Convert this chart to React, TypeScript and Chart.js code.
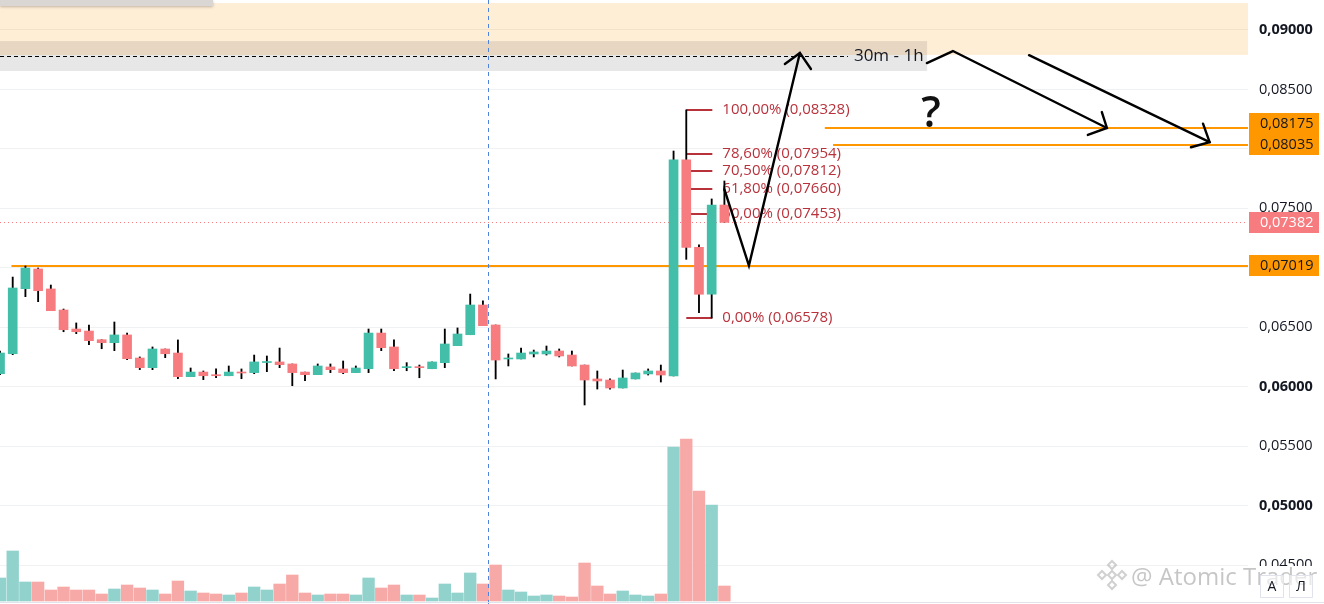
import React, { useEffect, useRef } from "react";
import { Chart, registerables } from "chart.js";

Chart.register(...registerables);

// ---- candle data (index = candle number) ----
const opens = [
  0.06109, 0.06277, 0.06824, 0.0699, 0.06822, 0.06645, 0.06485, 0.06468, 0.06395, 0.0637,
  0.06435, 0.06241, 0.0616, 0.06317, 0.06283, 0.06084, 0.06123, 0.06101, 0.06092, 0.06123,
  0.06118, 0.06203, 0.06208, 0.06191, 0.06123, 0.06101, 0.06166, 0.06149, 0.06118, 0.06151,
  0.06451, 0.06334, 0.0616, 0.06166, 0.06151, 0.06202, 0.06345, 0.06437, 0.06687, 0.06519,
  0.06233, 0.06233, 0.06275, 0.06275, 0.063, 0.06266, 0.06182, 0.06065, 0.06056, 0.05989,
  0.06065, 0.06107, 0.06132, 0.0609, 0.07907, 0.07172, 0.06777, 0.07528,
];
const highs = [
  0.063, 0.06922, 0.07015, 0.06998, 0.06855, 0.06653, 0.06536, 0.06519, 0.06395, 0.06544,
  0.06451, 0.0625, 0.06334, 0.06317, 0.06393, 0.06157, 0.06132, 0.06149, 0.06174, 0.06149,
  0.06266, 0.06258, 0.06325, 0.06191, 0.06123, 0.06191, 0.06191, 0.06216, 0.06174, 0.06485,
  0.06485, 0.06393, 0.06202, 0.06182, 0.06208, 0.06485, 0.06494, 0.06779, 0.06721, 0.06519,
  0.06275, 0.06325, 0.06308, 0.06342, 0.06317, 0.063, 0.06182, 0.06132, 0.06065, 0.0614,
  0.06115, 0.06149, 0.06182, 0.07982, 0.08328, 0.07192, 0.07579, 0.0773,
];
const lows = [
  0.061, 0.06269, 0.06757, 0.06715, 0.06639, 0.06462, 0.06446, 0.06353, 0.06319, 0.06303,
  0.06227, 0.06143, 0.06143, 0.06244, 0.06067, 0.06084, 0.06059, 0.06075, 0.06092, 0.06067,
  0.06109, 0.06126, 0.0616, 0.06008, 0.0605, 0.06101, 0.06118, 0.06109, 0.06118, 0.06118,
  0.06303, 0.06134, 0.06134, 0.06075, 0.06151, 0.0616, 0.06345, 0.06437, 0.06513, 0.06065,
  0.06174, 0.06233, 0.0625, 0.06266, 0.0625, 0.06174, 0.05846, 0.0598, 0.0598, 0.05989,
  0.06065, 0.06098, 0.06039, 0.0609, 0.07071, 0.06622, 0.06578, 0.07382,
];
const closes = [
  0.06283, 0.0683, 0.06998, 0.06807, 0.06639, 0.06479, 0.06462, 0.06387, 0.0637, 0.06435,
  0.06235, 0.0616, 0.06317, 0.06277, 0.06084, 0.06123, 0.06092, 0.06092, 0.06123, 0.06115,
  0.06208, 0.06208, 0.06185, 0.06118, 0.06101, 0.06174, 0.06143, 0.06118, 0.06157, 0.06451,
  0.06328, 0.06151, 0.06166, 0.0616, 0.06208, 0.06359, 0.06443, 0.06687, 0.06513, 0.06224,
  0.06241, 0.06283, 0.06292, 0.063, 0.06258, 0.06174, 0.06056, 0.06048, 0.05989, 0.06073,
  0.06115, 0.06132, 0.06098, 0.07907, 0.07172, 0.06777, 0.07528, 0.07382,
];
const volumes = [
  69, 150, 57, 57, 33, 42, 33, 33, 21, 36, 48, 39, 33, 21, 60, 30, 24, 21, 18, 24,
  42, 33, 51, 78, 24, 18, 21, 21, 18, 69, 39, 48, 18, 18, 9, 51, 24, 84, 51, 108,
  33, 27, 15, 18, 15, 12, 114, 45, 21, 30, 18, 15, 21, 462, 486, 330, 288, 45,
];

// ---- axis ----
const priceTicks = [0.045, 0.05, 0.055, 0.06, 0.065, 0.07, 0.075, 0.08, 0.085, 0.09];
const boldTicks = [0.05, 0.06, 0.09];

// ---- drawings ----
const fibLabels = ["100,00%", "78,60%", "70,50%", "61,80%", "50,00%", "0,00%"];
const fibPrices = [0.08328, 0.07954, 0.07812, 0.0766, 0.07453, 0.06578];
const fibRange = [54, 56.05];

const levelPrices = [0.07019, 0.08175, 0.08035];
const levelStarts = [0.9, 64.9, 65.55];
const lastPrice = 0.07382;

const orangeZone = [0.09227, 0.0879];
const grayZone = [0.08907, 0.08655];
const grayZoneEnd = 72.95;
const dashedPrice = 0.08781;
const dashedEnd = 66.72;
const zoneLabel = "30m - 1h";

const crosshairIndex = 38.4;

const arrowLines: number[][][] = [
  [[57.0, 0.0766], [58.93, 0.07019], [62.94, 0.08807]],
  [[61.76, 0.08714], [62.94, 0.08807], [63.81, 0.08672]],
  [[72.93, 0.08722], [74.98, 0.08823], [87.1, 0.08176]],
  [[86.7, 0.0831], [87.1, 0.08176], [85.6, 0.08117]],
  [[80.97, 0.08788], [95.18, 0.08057]],
  [[94.66, 0.08212], [95.18, 0.08057], [93.71, 0.08014]],
];
const questionMark = [73.25, 0.08184];

const watermark = "@ Atomic Trader";
const scaleButtons = ["А", "Л"];

const GREEN = "#43bea8";
const RED = "#f77c80";
const VOL_GREEN = "#92d2cc";
const VOL_RED = "#f7a9a7";
const FIB = "#b8323c";
const ORANGE = "#ff9800";
const TEXT = "#131722";
const FONT = "'Open Sans', 'Noto Sans', sans-serif";

const fmt = (v: number) => v.toFixed(5).replace(".", ",");

const overlay = {
  id: "overlay",
  beforeDatasetsDraw(chart: any) {
    const { ctx, chartArea: ca, scales } = chart;
    const px = (v: number) => scales.x.getPixelForValue(v);
    const py = (v: number) => scales.y.getPixelForValue(v);
    ctx.save();
    // zones
    ctx.fillStyle = "rgba(255,152,0,0.16)";
    ctx.fillRect(ca.left, py(orangeZone[0]), ca.right - ca.left, py(orangeZone[1]) - py(orangeZone[0]));
    ctx.fillStyle = "rgba(0,0,0,0.095)";
    ctx.fillRect(ca.left, py(grayZone[0]), px(grayZoneEnd) - ca.left, py(grayZone[1]) - py(grayZone[0]));
    // dashed line + label
    ctx.strokeStyle = "#000";
    ctx.lineWidth = 1;
    ctx.setLineDash([4, 3]);
    ctx.beginPath();
    const dy = Math.round(py(dashedPrice)) + 0.5;
    ctx.moveTo(ca.left, dy);
    ctx.lineTo(px(dashedEnd), dy);
    ctx.stroke();
    ctx.setLineDash([]);
    ctx.fillStyle = TEXT;
    ctx.font = `17px ${FONT}`;
    ctx.textAlign = "left";
    ctx.textBaseline = "middle";
    ctx.fillText(zoneLabel, px(dashedEnd) + 6, dy);

    // last price dotted line
    ctx.strokeStyle = RED;
    ctx.setLineDash([1, 3]);
    ctx.beginPath();
    const ly = Math.round(py(lastPrice)) + 0.5;
    ctx.moveTo(ca.left, ly);
    ctx.lineTo(ca.right, ly);
    ctx.stroke();
    ctx.setLineDash([]);

    // horizontal orange levels
    ctx.strokeStyle = ORANGE;
    ctx.lineWidth = 2;
    levelPrices.forEach((p, i) => {
      const y = Math.round(py(p));
      ctx.beginPath();
      ctx.moveTo(px(levelStarts[i]), y);
      ctx.lineTo(ca.right, y);
      ctx.stroke();
    });

    // fib
    ctx.strokeStyle = FIB;
    ctx.fillStyle = FIB;
    ctx.lineWidth = 2;
    ctx.font = `15px ${FONT}`;
    fibPrices.forEach((p, i) => {
      const y = Math.round(py(p));
      ctx.beginPath();
      ctx.moveTo(px(fibRange[0]), y);
      ctx.lineTo(px(fibRange[1]), y);
      ctx.stroke();
      ctx.fillText(`${fibLabels[i]} (${fmt(p)})`, px(fibRange[1]) + 10, y);
    });
    ctx.restore();
  },
  afterDatasetsDraw(chart: any) {
    const { ctx, chartArea: ca, scales } = chart;
    const px = (v: number) => scales.x.getPixelForValue(v);
    const py = (v: number) => scales.y.getPixelForValue(v);
    ctx.save();
    // crosshair
    ctx.strokeStyle = "#4f83dc";
    ctx.lineWidth = 1;
    ctx.setLineDash([4, 4]);
    ctx.beginPath();
    const cx = Math.round(px(crosshairIndex)) + 0.5;
    ctx.moveTo(cx, ca.top);
    ctx.lineTo(cx, ca.bottom);
    ctx.stroke();
    ctx.setLineDash([]);
    // arrows
    ctx.strokeStyle = "#000";
    ctx.lineWidth = 2.4;
    ctx.lineJoin = "miter";
    ctx.lineCap = "round";
    arrowLines.forEach((pts) => {
      ctx.beginPath();
      pts.forEach(([i, p], k) => {
        if (k === 0) ctx.moveTo(px(i), py(p));
        else ctx.lineTo(px(i), py(p));
      });
      ctx.stroke();
    });
    // question mark
    ctx.fillStyle = "#111";
    ctx.font = `600 43px ${FONT}`;
    ctx.textAlign = "center";
    ctx.textBaseline = "alphabetic";
    ctx.fillText("?", px(questionMark[0]), py(questionMark[1]));
    ctx.restore();
  },
  afterDraw(chart: any) {
    const { ctx, chartArea: ca, scales, width, height } = chart;
    const py = (v: number) => scales.y.getPixelForValue(v);
    ctx.save();
    // price labels on axis
    const labels = [
      { price: levelPrices[0], bg: ORANGE, fg: TEXT },
      { price: levelPrices[1], bg: ORANGE, fg: TEXT },
      { price: levelPrices[2], bg: ORANGE, fg: TEXT },
      { price: lastPrice, bg: RED, fg: "#fff" },
    ].map((l) => ({ ...l, y: py(l.price) }));
    const h = 21;
    labels.sort((a, b) => b.y - a.y);
    for (let k = 1; k < labels.length; k++) {
      const prevTop = labels[k - 1].y - h / 2;
      if (labels[k].y + h / 2 > prevTop) labels[k].y = prevTop - h / 2;
    }
    ctx.font = `14.5px ${FONT}`;
    ctx.textAlign = "left";
    ctx.textBaseline = "middle";
    labels.forEach((l) => {
      ctx.fillStyle = l.bg;
      ctx.beginPath();
      ctx.rect(ca.right + 1, Math.round(l.y - h / 2), 70, h);
      ctx.fill();
      ctx.fillStyle = l.fg;
      ctx.fillText(fmt(l.price), ca.right + 12, l.y + 0.5);
    });

    // white area at bottom of price axis
    ctx.fillStyle = "#fff";
    ctx.fillRect(ca.right, 566, width - ca.right, height - 566);

    // watermark logo
    const lx = 1112;
    const lyy = 575;
    ctx.strokeStyle = "rgba(150,150,150,0.45)";
    ctx.lineWidth = 2;
    const diamond = (x: number, y: number, r: number) => {
      ctx.beginPath();
      ctx.moveTo(x, y - r);
      ctx.lineTo(x + r, y);
      ctx.lineTo(x, y + r);
      ctx.lineTo(x - r, y);
      ctx.closePath();
      ctx.stroke();
    };
    diamond(lx, lyy, 4);
    diamond(lx, lyy - 10, 4);
    diamond(lx, lyy + 10, 4);
    diamond(lx - 10, lyy, 4);
    diamond(lx + 10, lyy, 4);
    // watermark text
    ctx.fillStyle = "rgba(120,120,120,0.42)";
    ctx.font = `24px ${FONT}`;
    ctx.textBaseline = "middle";
    ctx.fillText(watermark, 1131, 578);

    // buttons
    ctx.font = `14px ${FONT}`;
    ctx.textAlign = "center";
    scaleButtons.forEach((b, i) => {
      const bx = 1260 + i * 29;
      ctx.fillStyle = "rgba(255,255,255,0.6)";
      ctx.strokeStyle = "#e0e3eb";
      ctx.lineWidth = 1;
      ctx.beginPath();
      ctx.rect(bx + 0.5, 575.5, 23, 22);
      ctx.fill();
      ctx.stroke();
      ctx.fillStyle = TEXT;
      ctx.fillText(b, bx + 12, 587);
    });

    // bottom border
    ctx.strokeStyle = "#e0e3eb";
    ctx.beginPath();
    ctx.moveTo(0, 602.5);
    ctx.lineTo(width, 602.5);
    ctx.stroke();

    // top-left panel edge
    ctx.shadowColor = "rgba(0,0,0,0.25)";
    ctx.shadowBlur = 3;
    ctx.shadowOffsetY = 1;
    ctx.fillStyle = "#d9d6d3";
    ctx.fillRect(0, 0, 213, 6);
    ctx.restore();
  },
};

export default function App() {
  const ref = useRef<HTMLCanvasElement | null>(null);
  useEffect(() => {
    if (!ref.current) return;
    const up = closes.map((c, i) => c >= opens[i]);
    const bodies = opens.map((o, i) => ({ x: i, y: [o, closes[i]] }));
    const wicks = highs.map((h, i) => ({ x: i, y: [lows[i], h] }));
    const vols = volumes.map((v, i) => ({ x: i, y: v }));
    const chart = new Chart(ref.current, {
      type: "bar",
      data: {
        datasets: [
          {
            label: "body",
            data: bodies as any,
            backgroundColor: up.map((u) => (u ? GREEN : RED)),
            barThickness: 9,
            minBarLength: 1,
            grouped: false,
            yAxisID: "y",
            order: 0,
          } as any,
          {
            label: "wick",
            data: wicks as any,
            backgroundColor: "#000",
            barThickness: 1.2,
            grouped: false,
            yAxisID: "y",
            order: 1,
          } as any,
          {
            label: "volume",
            data: vols as any,
            backgroundColor: up.map((u) => (u ? VOL_GREEN : VOL_RED)),
            barThickness: 11.7,
            grouped: false,
            yAxisID: "yv",
            order: 2,
          } as any,
        ],
      },
      options: {
        animation: false,
        responsive: false,
        events: [],
        layout: { padding: 0 },
        plugins: { legend: { display: false }, tooltip: { enabled: false } },
        scales: {
          x: { type: "linear", min: 0, max: 98.2, display: false, offset: false },
          y: {
            position: "right",
            min: 0.04172,
            max: 0.092523,
            afterBuildTicks: (scale: any) => {
              scale.ticks = priceTicks.map((v) => ({ value: v }));
            },
            afterFit: (scale: any) => {
              scale.width = 76;
              scale.paddingTop = 0;
              scale.paddingBottom = 0;
            },
            grid: { color: "#f0f1f3", drawTicks: false, lineWidth: 1 },
            border: { display: false },
            ticks: {
              padding: 11,
              color: TEXT,
              font: (c: any) => {
                const v = c && c.tick ? c.tick.value : NaN;
                const bold = boldTicks.some((b) => Math.abs(b - v) < 1e-9);
                return { family: FONT, size: 14.5, weight: bold ? "bold" : "normal" };
              },
              callback: (v: any) => fmt(Number(v)),
            },
          },
          yv: { display: false, min: -9, max: 1803 },
        },
      } as any,
      plugins: [overlay],
    });
    return () => chart.destroy();
  }, []);
  return (
    <div style={{ position: "fixed", left: 0, top: 0, width: 1324, height: 604, background: "#fff" }}>
      <canvas ref={ref} width={1324} height={604} style={{ display: "block" }} />
    </div>
  );
}
